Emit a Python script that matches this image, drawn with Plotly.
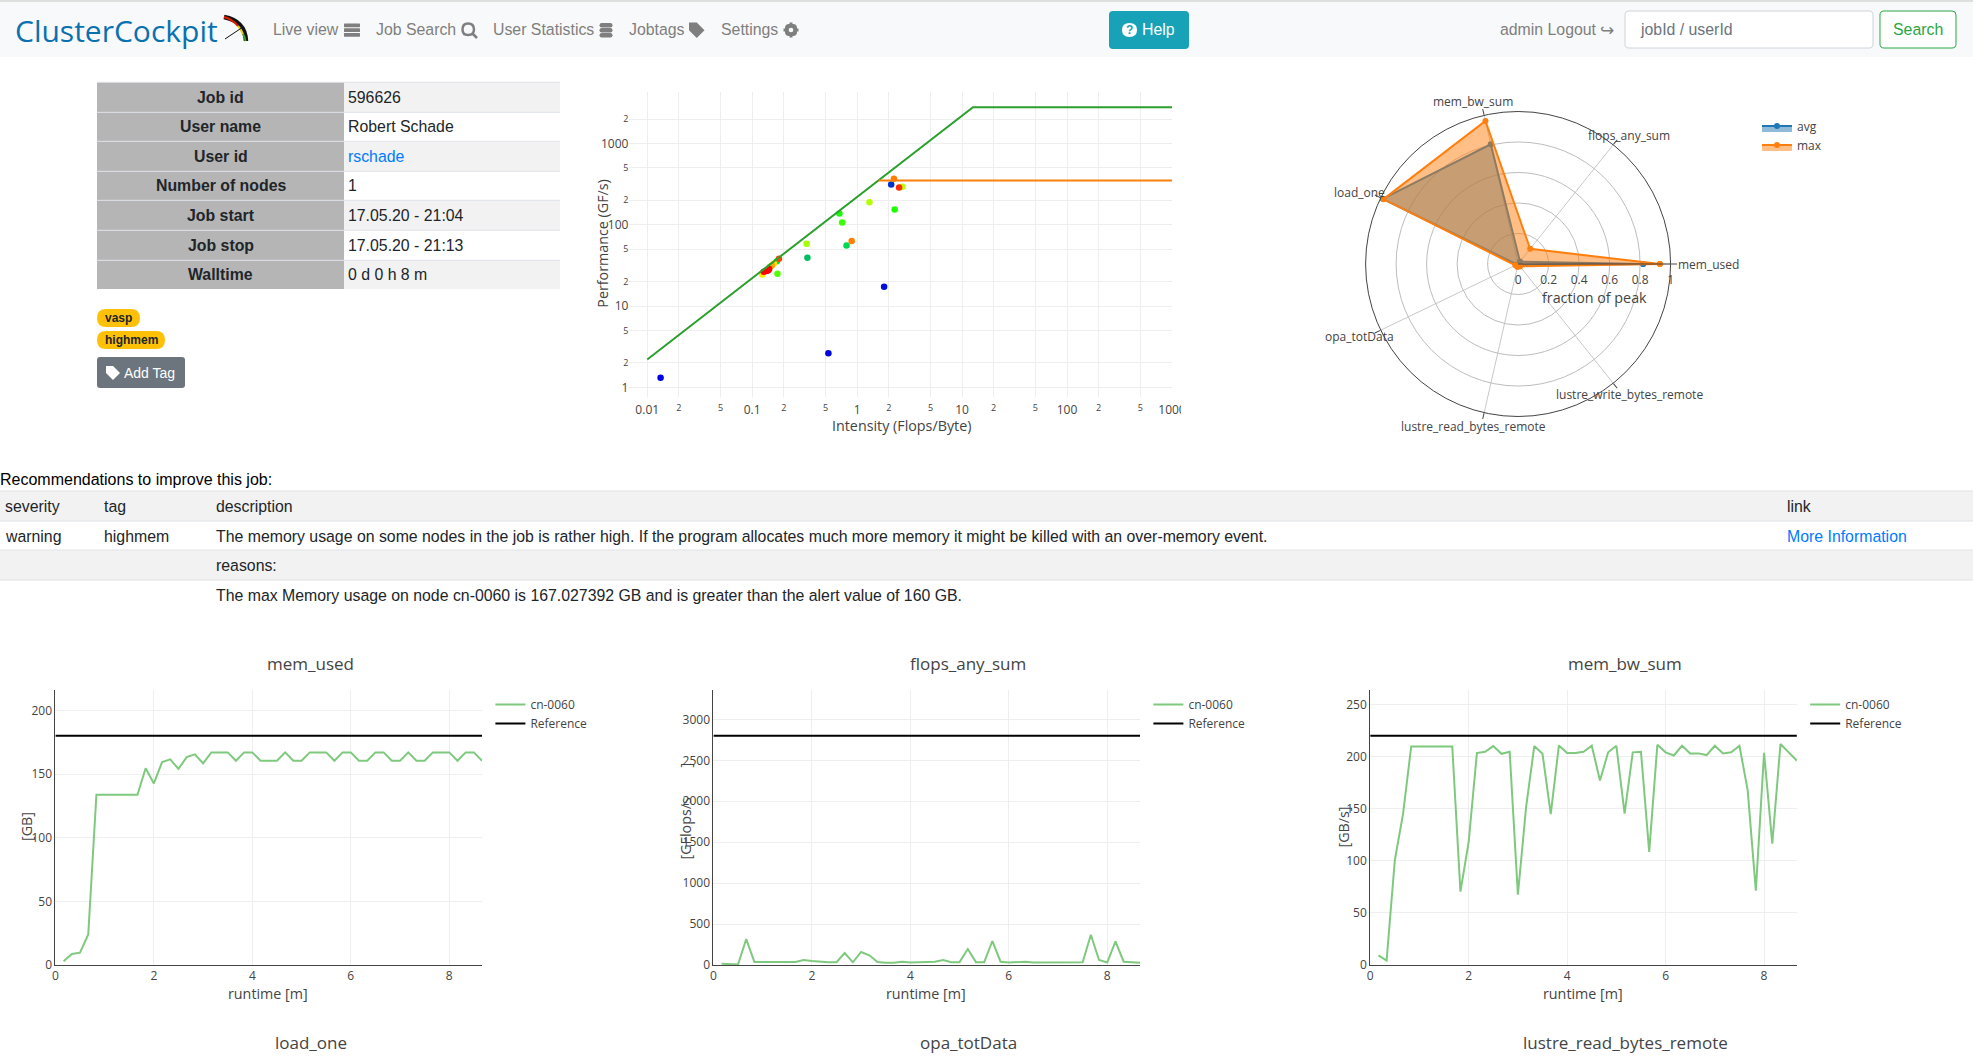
import plotly.graph_objects as go

W, H = 1973, 1062
TEXT_FONT = "Liberation Sans"
PLOT_FONT = "Open Sans"

# job info
job_labels = ["Job id", "User name", "User id", "Number of nodes", "Job start", "Job stop", "Walltime"]
job_values = ["596626", "Robert Schade", "rschade", "1", "17.05.20 - 21:04", "17.05.20 - 21:13", "0 d 0 h 8 m"]
job_tags = ["vasp", "highmem"]

rec_headers = ["severity", "tag", "description", "link"]
rec_row = ["warning", "highmem",
           "The memory usage on some nodes in the job is rather high. If the program allocates much more "
           "memory it might be killed with an over-memory event.",
           "More Information"]
rec_reason = "The max Memory usage on node cn-0060 is 167.027392 GB and is greater than the alert value of 160 GB."

# roofline
roof_x = [0.01, 12.7, 1000]
roof_y = [2.2, 2800, 2800]
scalar_x = [1.6, 1000]
scalar_y = [350, 350]
job_intensity = [0.0134, 0.532, 1.807, 2.11, 0.336, 0.172, 0.792, 0.678, 2.28, 0.72, 0.174, 0.148, 0.33, 1.31, 2.69,
                 0.125, 0.161, 0.154, 0.887, 2.24, 0.18, 2.51, 0.145, 0.138, 0.142, 0.135, 0.129]
job_perf = [1.315, 2.62, 17.3, 313, 39.3, 35.7, 55.7, 138, 154, 107, 25, 30.5, 58.4, 190, 293,
            24.5, 33.5, 31.6, 63, 368, 38.2, 288, 28.5, 27.2, 27.5, 27, 26.4]
job_time = [0.0, 0.01, 0.02, 0.08, 0.25, 0.3, 0.28, 0.4, 0.42, 0.45, 0.48, 0.5, 0.58, 0.6, 0.6,
            0.72, 0.72, 0.8, 0.85, 0.85, 0.92, 0.95, 1.0, 1.0, 1.0, 1.0, 1.0]
time_scale = [[0, "#0000e6"], [0.1, "#0040c0"], [0.28, "#00d850"], [0.42, "#20ff00"], [0.6, "#b4ff00"],
              [0.72, "#ffe600"], [0.85, "#ff8000"], [1, "#ff0000"]]

# radar
radar_metrics = ["mem_used", "flops_any_sum", "mem_bw_sum", "load_one", "opa_totData",
                 "lustre_read_bytes_remote", "lustre_write_bytes_remote"]
radar_avg = [0.82, 0.02, 0.805, 0.985, 0.01, 0.01, 0.01]
radar_max = [0.93, 0.127, 0.962, 0.98, 0.02, 0.02, 0.02]
radial_title = "fraction of peak"

# node metrics
runtime_min = [0.167, 0.333, 0.5, 0.667, 0.833, 1.0, 1.167, 1.333, 1.5, 1.667, 1.833, 2.0, 2.167, 2.333, 2.5, 2.667,
               2.833, 3.0, 3.167, 3.333, 3.5, 3.667, 3.833, 4.0, 4.167, 4.333, 4.5, 4.667, 4.833, 5.0, 5.167, 5.333,
               5.5, 5.667, 5.833, 6.0, 6.167, 6.333, 6.5, 6.667, 6.833, 7.0, 7.167, 7.333, 7.5, 7.667, 7.833, 8.0,
               8.167, 8.333, 8.5, 8.667]
mem_used = [3, 8.6, 9.7, 24, 133.7, 133.7, 133.7, 133.7, 133.7, 133.7, 154.6, 142.6, 159.4, 161.5, 154, 163.3,
            165.4, 158.3, 167, 167, 167, 160.4, 167, 167, 160.4, 160.4, 160.4, 167, 160.4, 160.4, 167, 167,
            167, 160.4, 167, 167, 160.4, 160.4, 167, 167, 160.4, 160.4, 167, 160.4, 160.4, 167, 167, 167,
            160.4, 167, 167, 160.4]
flops_any_sum = [16, 6, 5, 317, 37, 37, 40, 40, 38, 38, 61, 50, 38, 35, 35, 146,
                 33, 159, 118, 37, 28, 28, 40, 30, 33, 38, 40, 61, 35, 35, 195, 35,
                 35, 293, 40, 30, 38, 40, 30, 30, 30, 38, 38, 38, 33, 370, 61, 30,
                 289, 40, 30, 28]
mem_bw_sum = [9.3, 4.2, 100.5, 145, 209.7, 209.6, 209.5, 209.3, 209.3, 209.5, 70.4, 118, 203.3, 204.5, 210, 202.6,
              204.5, 67.5, 151.7, 210, 202.6, 144.7, 210.6, 203.3, 203.3, 204.5, 210.3, 177, 204, 210.3, 145.3, 204,
              204.5, 108.5, 211.3, 204, 201, 210.3, 203, 203, 201.4, 210.3, 203, 204, 210.3, 167.7, 71.4, 203.6,
              116.5, 212, 204, 196]
node_name = "cn-0060"
reference_name = "Reference"
ref_x = [0, 8.667]

plots = [
    {"name": "mem_used", "y": mem_used, "ref": 180, "unit": "[GB]", "top": 216, "dtick": 50,
     "left": 55.4, "title_x": 310.8, "xt": 268, "yt": 26, "yt_y": 827},
    {"name": "flops_any_sum", "y": flops_any_sum, "ref": 2800, "unit": "[GFlops/s\u00a0\u00a0\u00a0\u00a0\u00a0\u00a0\u00a0\u00a0]",
     "top": 3359, "dtick": 500, "left": 713.4, "title_x": 968.4, "xt": 926, "yt": 684.5, "yt_y": 811},
    {"name": "mem_bw_sum", "y": mem_bw_sum, "ref": 220, "unit": "[GB/s]", "top": 263.8, "dtick": 50,
     "left": 1370.2, "title_x": 1625.3, "xt": 1583, "yt": 1342.5, "yt_y": 827},
]
next_titles = [("load_one", 310.8), ("opa_totData", 968.4), ("lustre_read_bytes_remote", 1625.3)]

shapes = []
notes = []


def px(x):
    return x / W


def py(y):
    return 1 - y / H


def rect(x0, y0, x1, y1, fill, line=None, layer="below"):
    shapes.append(dict(type="rect", xref="paper", yref="paper", x0=px(x0), x1=px(x1), y0=py(y0), y1=py(y1),
                       fillcolor=fill, line=dict(color=line, width=1) if line else dict(width=0), layer=layer))


def hline(y, x0, x1, color):
    shapes.append(dict(type="line", xref="paper", yref="paper", x0=px(x0), x1=px(x1), y0=py(y), y1=py(y),
                       line=dict(color=color, width=1), layer="below"))


def path(points, fill=None, color=None, width=1):
    d = ""
    for cmd, coords in points:
        d += cmd + " " + " ".join(f"{px(c[0]):.5f},{py(c[1]):.5f}" for c in coords) + " "
    shapes.append(dict(type="path", xref="paper", yref="paper", path=d + ("Z" if fill else ""),
                       fillcolor=fill, line=dict(color=color, width=width) if color else dict(width=0), layer="above"))


def round_rect(x0, y0, x1, y1, r, fill, line=None):
    pts = [("M", [(x0 + r, y0)]), ("L", [(x1 - r, y0)]), ("Q", [(x1, y0), (x1, y0 + r)]),
           ("L", [(x1, y1 - r)]), ("Q", [(x1, y1), (x1 - r, y1)]), ("L", [(x0 + r, y1)]),
           ("Q", [(x0, y1), (x0, y1 - r)]), ("L", [(x0, y0 + r)]), ("Q", [(x0, y0), (x0 + r, y0)])]
    path(pts, fill=fill, color=line)


def tag_icon(x, y, s, fill):
    path([("M", [(x, y)]), ("L", [(x + s * 0.5, y)]), ("L", [(x + s, y + s * 0.5)]),
          ("L", [(x + s * 0.5, y + s)]), ("L", [(x, y + s * 0.5)])], fill=fill)


def label(x, y, text, size=15.85, color="#212529", anchor="left", family=TEXT_FONT, angle=0):
    if anchor == "left":
        x -= 2
    notes.append(dict(x=px(x), y=py(y), xref="paper", yref="paper", text=text, showarrow=False,
                      xanchor=anchor, yanchor="middle", textangle=angle,
                      font=dict(family=family, size=size, color=color)))


# nav bar
rect(0, 0, W, 57, "#f8f9fa")
hline(1, 0, W, "#c4c4c4")
label(15, 31, "ClusterCockpit", size=30, color="#0a71b0", family=PLOT_FONT)
path([("M", [(224, 17)]), ("Q", [(245, 21), (246, 41)])], color="#111111", width=4.5)
path([("M", [(224, 17)]), ("Q", [(232, 19), (238, 26)])], color="#e02000", width=2)
path([("M", [(238, 26)]), ("Q", [(241, 29), (243, 34)])], color="#e8d000", width=2)
path([("M", [(243, 34)]), ("Q", [(245, 37), (245.5, 41)])], color="#40a020", width=2)
path([("M", [(225, 39)]), ("L", [(243, 27)])], color="#111111", width=1)

nav_grey = "#7f7f7f"
for text, x in [("Live view", 273), ("Job Search", 376), ("User Statistics", 493), ("Jobtags", 629), ("Settings", 721)]:
    label(x, 30, text, color=nav_grey)
for i in range(3):
    round_rect(344, 23.5 + i * 4.7, 360, 27.3 + i * 4.7, 0.5, nav_grey)
path([("M", [(468, 23.5)]), ("Q", [(474, 23.5), (474, 29.5)]), ("Q", [(474, 35), (468, 35)]),
      ("Q", [(462.5, 35), (462.5, 29.5)]), ("Q", [(462.5, 23.5), (468, 23.5)]), ("M", [(472, 33)]), ("L", [(477, 38)])],
     color=nav_grey, width=2.5)
for i in range(3):
    round_rect(599.5, 23 + i * 5, 612.5, 27.5 + i * 5, 2.2, nav_grey)
tag_icon(689, 22.5, 15.5, nav_grey)
# gear
rect(789.5, 22.5, 792.5, 37.5, nav_grey, layer="above")
rect(783.5, 28.5, 798.5, 31.5, nav_grey, layer="above")
round_rect(785, 24, 797, 36, 4, nav_grey)
round_rect(788.7, 27.7, 793.3, 32.3, 2.3, "#f8f9fa")
label(1500, 30, "admin Logout", color=nav_grey)
label(1600, 30, "\u21aa", size=17, color=nav_grey, family="DejaVu Sans")
round_rect(1109, 11, 1189, 49, 4, "#17a2b8")
path([("M", [(1129.5, 23)]), ("Q", [(1137, 23), (1137, 30)]), ("Q", [(1137, 37), (1129.5, 37)]),
      ("Q", [(1122, 37), (1122, 30)]), ("Q", [(1122, 23), (1129.5, 23)])], fill="#ffffff")
label(1129.5, 30, "<b>?</b>", size=12, color="#17a2b8", anchor="center")
label(1142, 30, "Help", color="#ffffff")
round_rect(1625, 11, 1873, 48, 4, "#ffffff", "#ced4da")
label(1640, 30, "jobId / userId", color="#6c757d")
round_rect(1880, 11, 1956, 48, 4, "#ffffff", "#28a745")
label(1918, 30, "Search", color="#28a745", anchor="center")

# job table
row_lines = [82.3, 112.3, 141.3, 171.3, 200.3, 230.3, 260.3, 289]
for i, name in enumerate(job_labels):
    top, bottom = row_lines[i], row_lines[i + 1]
    mid = (top + bottom) / 2
    if i % 2 == 0:
        rect(344, top, 560, bottom, "#f2f2f2")
    rect(97, top, 344, bottom, "#b5b5b5")
    hline(top, 97, 560, "#dee2e6")
    label(220.5, mid, f"<b>{name}</b>", anchor="center")
    label(348, mid, job_values[i], color="#007bff" if name == "User id" else "#212529")

# tags
tag_rows = [(97, 140, 318), (97, 165, 340)]
for tag, (x0, x1, mid) in zip(job_tags, tag_rows):
    round_rect(x0, mid - 9, x1, mid + 9, 9, "#ffc107")
    label((x0 + x1) / 2, mid, f"<b>{tag}</b>", size=12, anchor="center")
round_rect(97, 357, 185, 388, 3, "#6c757d")
tag_icon(106, 366, 14, "#ffffff")
label(124, 372.5, "Add Tag", size=14, color="#ffffff")

# recommendations
label(0, 479.5, "Recommendations to improve this job:", size=16, color="#000000")
rect(0, 491, W, 521, "#f2f2f2")
rect(0, 550, W, 580, "#f2f2f2")
for y in [491, 521, 550, 580]:
    hline(y, 0, W, "#dee2e6")
rec_x = [5, 104, 216, 1787]
for i, text in enumerate(rec_headers):
    label(rec_x[i], 506, text)
for i, text in enumerate(rec_row):
    label(rec_x[i], 536, text, color="#007bff" if i == 3 else "#212529")
label(216, 565, "reasons:")
label(216, 595, rec_reason)

fig = go.Figure()

# roofline plot
fig.add_trace(go.Scatter(x=job_intensity, y=job_perf, mode="markers", xaxis="x", yaxis="y", showlegend=False,
                         marker=dict(color=job_time, colorscale=time_scale, cmin=0, cmax=1, size=6.5)))
fig.add_trace(go.Scatter(x=roof_x, y=roof_y, mode="lines", xaxis="x", yaxis="y", showlegend=False,
                         line=dict(color="#2ca02c", width=2)))
fig.add_trace(go.Scatter(x=scalar_x, y=scalar_y, mode="lines", xaxis="x", yaxis="y", showlegend=False,
                         line=dict(color="#ff7f0e", width=2)))
label(901.5, 426, "Intensity (Flops/Byte)", size=14.3, color="#444444", anchor="center", family=PLOT_FONT)
label(601.7, 243, "Performance (GF/s)", size=14.3, color="#444444", anchor="center", family=PLOT_FONT, angle=-90)
rect(1181, 398, 1200, 420, "#ffffff", layer="above")

# radar plot
for name, vals, color in [("avg", radar_avg, "#1f77b4"), ("max", radar_max, "#ff7f0e")]:
    fig.add_trace(go.Scatterpolar(r=vals + vals[:1], theta=radar_metrics + radar_metrics[:1], name=name,
                                  mode="lines+markers", fill="toself", subplot="polar", legend="legend",
                                  line=dict(color=color, width=2), marker=dict(color=color, size=6)))
radar_labels = [(1708.3, 264.3), (1629, 135), (1473.4, 101.7), (1359.3, 192.7), (1359.7, 336.7), (1473, 426.7), (1629.9, 394.7)]
for name, (x, y) in zip(radar_metrics, radar_labels):
    label(x, y, name, size=12, color="#444444", anchor="center", family=PLOT_FONT)
label(1594.7, 297.3, radial_title, size=14.3, color="#444444", anchor="center", family=PLOT_FONT)

layout = dict(
    template="none", width=W, height=H, autosize=False, margin=dict(l=0, r=0, t=0, b=0),
    paper_bgcolor="#ffffff", plot_bgcolor="rgba(0,0,0,0)",
    font=dict(family=PLOT_FONT, size=12, color="#444444"),
    xaxis=dict(type="log", range=[-2.17, 3], tick0=0, dtick="D2", exponentformat="none",
               domain=[px(629.4), px(1172)], showline=False, zeroline=False, anchor="y", gridcolor="#eeeeee",
               ticks="outside", ticklen=2, tickcolor="rgba(0,0,0,0)"),
    yaxis=dict(type="log", range=[-0.115, 3.63], dtick="D2", exponentformat="none", domain=[py(396.7), py(92.3)],
               showline=False, zeroline=False, anchor="x", gridcolor="#eeeeee"),
    polar=dict(domain=dict(x=[px(1365.6), px(1670.6)], y=[py(416.5), py(111.5)]), bgcolor="rgba(0,0,0,0)",
               angularaxis=dict(direction="counterclockwise", rotation=0, showticklabels=False, ticks="outside",
                                ticklen=6, gridcolor="#c8c8c8", linecolor="#444444", type="category"),
               radialaxis=dict(range=[0, 1], dtick=0.2, angle=0, side="clockwise", gridcolor="#bdbdbd",
                               linecolor="#444444", ticks="outside", ticklen=5, tickcolor="rgba(0,0,0,0)",
                               showline=True)),
    legend=dict(x=px(1757), y=py(111.5), xanchor="left", yanchor="top", bgcolor="rgba(0,0,0,0)", font=dict(size=12)),
)

# node metric plots
for i, p in enumerate(plots):
    n = i + 2
    x_name, y_name, leg = f"x{n}", f"y{n}", f"legend{n}"
    x0 = p["left"]
    fig.add_trace(go.Scatter(x=runtime_min, y=p["y"], name=node_name, mode="lines", xaxis=x_name, yaxis=y_name,
                             legend=leg, line=dict(color="#7fc97f", width=2)))
    fig.add_trace(go.Scatter(x=ref_x, y=[p["ref"], p["ref"]], name=reference_name, mode="lines", xaxis=x_name,
                             yaxis=y_name, legend=leg, line=dict(color="#000000", width=2)))
    layout[f"xaxis{n}"] = dict(domain=[px(x0), px(x0 + 426.7)], range=[0, 8.667], dtick=2, anchor=y_name,
                               showline=True, linecolor="#444444", zeroline=False, gridcolor="#eeeeee")
    layout[f"yaxis{n}"] = dict(domain=[py(965), py(690)], range=[0, p["top"]], dtick=p["dtick"], anchor=x_name,
                               showline=True, linecolor="#444444", zeroline=False, gridcolor="#eeeeee")
    layout[leg] = dict(x=px(x0 + 435), y=py(690), xanchor="left", yanchor="top", bgcolor="rgba(0,0,0,0)",
                       font=dict(size=12))
    label(p["title_x"], 663, p["name"], size=17, color="#444444", anchor="center", family=PLOT_FONT)
    label(p["xt"], 993.5, "runtime [m]", size=14.3, color="#444444", anchor="center", family=PLOT_FONT)
    label(p["yt"], p["yt_y"], p["unit"], size=14.3, color="#444444", anchor="center", family=PLOT_FONT, angle=-90)

for name, x in next_titles:
    label(x, 1042, name, size=17, color="#444444", anchor="center", family=PLOT_FONT)

layout["shapes"] = shapes
layout["annotations"] = notes
fig.update_layout(**layout)

fig.write_html("out.html", config={"displayModeBar": False}, post_script="document.body.style.margin='0';")
